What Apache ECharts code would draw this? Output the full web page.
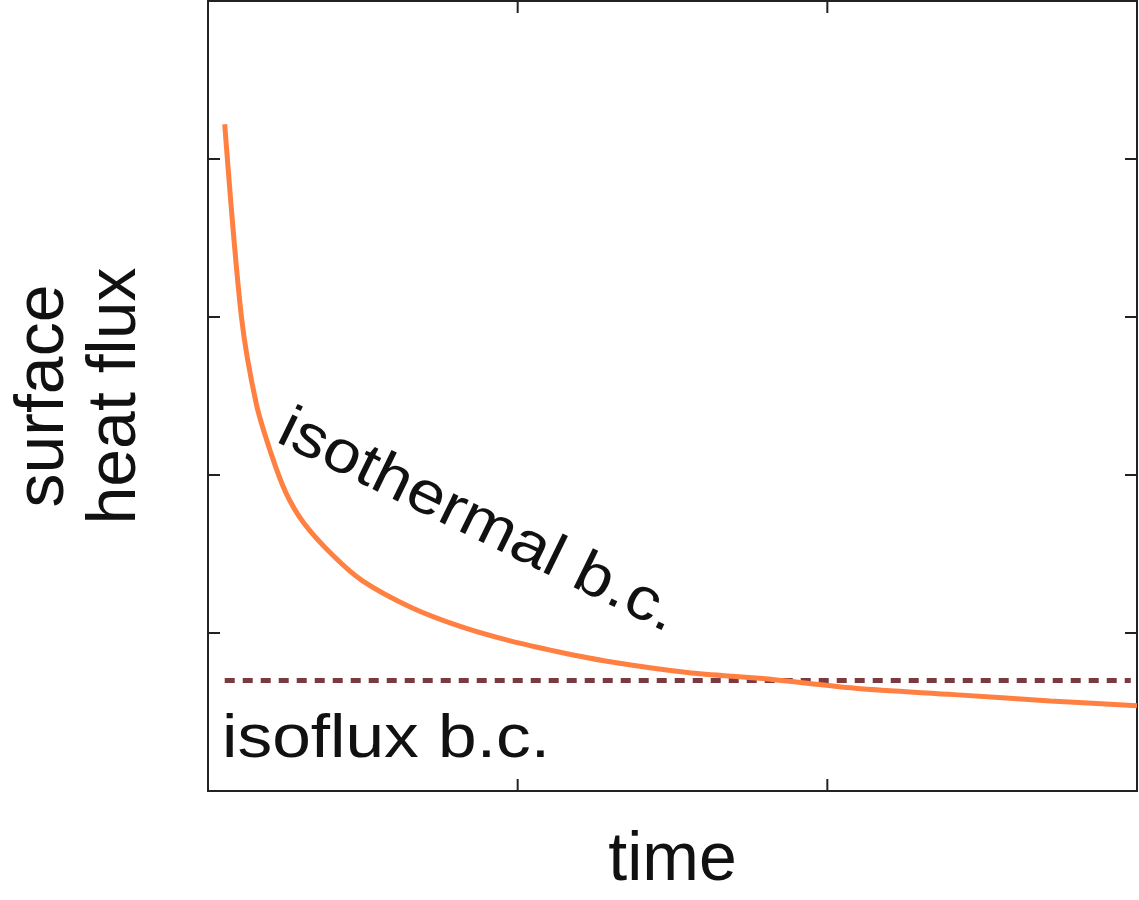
<!DOCTYPE html>
<html><head><meta charset="utf-8">
<script src="https://cdn.jsdelivr.net/npm/echarts@6/dist/echarts.min.js"></script>
<style>html,body{margin:0;background:#fff}#c{width:1139px;height:900px}</style>
</head><body><div id="c"></div>
<script>
const timeX = [0.054,0.108,0.156,0.203,0.251,0.308,0.404,0.499,0.658,0.817,0.976,1.134,1.293,1.548,1.80,2.09,2.41,2.72,3.0];
const isothermal = [4.22,3.0,2.45,2.14,1.89,1.70,1.49,1.33,1.16,1.04,0.95,0.88,0.82,0.75,0.71,0.65,0.61,0.57,0.54];
const isofluxX = [0.054,2.98];
const isoflux = [0.70,0.70];
const xTicks = [1,2];
const yTicks = [1,2,3,4];
const chart = echarts.init(document.getElementById('c'));
const font = 'Liberation Sans, Arial, sans-serif';
const TL = 12, TC = '#222';
function tickItem(params, api){
  const kind = api.value(0), v = api.value(1);
  const cs = params.coordSys;
  const lines = [];
  if (kind === 0){
    const x = api.coord([v,0])[0];
    lines.push([x,cs.y+cs.height,x,cs.y+cs.height-TL],[x,cs.y,x,cs.y+TL]);
  } else {
    const y = api.coord([0,v])[1];
    lines.push([cs.x,y,cs.x+TL,y],[cs.x+cs.width,y,cs.x+cs.width-TL,y]);
  }
  return {type:'group',children:lines.map(l=>({type:'line',shape:{x1:l[0],y1:l[1],x2:l[2],y2:l[3]},style:{stroke:TC,lineWidth:2}}))};
}
const tickData = xTicks.map(v=>[0,v]).concat(yTicks.map(v=>[1,v]));
chart.setOption({
  animation:false,
  grid:{left:193,right:2,top:1,bottom:90,show:true,borderColor:TC,borderWidth:2,backgroundColor:'transparent'},
  xAxis:{type:'value',min:0,max:3,interval:1,axisLine:{show:false},axisTick:{show:false},axisLabel:{show:false},splitLine:{show:false},
     name:'time',nameLocation:'middle',nameGap:36,nameTextStyle:{fontFamily:font,fontSize:68,color:'#111'}},
  yAxis:{type:'value',min:0,max:5,interval:1,axisLine:{show:false},axisTick:{show:false},axisLabel:{show:false},splitLine:{show:false},
     name:'surface\nheat flux',nameLocation:'middle',nameGap:56,nameRotate:90,nameTextStyle:{fontFamily:font,fontSize:68,color:'#111',lineHeight:72}},
  series:[
    {type:'custom',renderItem:tickItem,data:tickData,silent:true,clip:false},
    {type:'line',data:isofluxX.map((x,i)=>[x,isoflux[i]]),showSymbol:false,lineStyle:{color:'#7b3a3f',width:5,type:[10,8]}},
    {type:'line',data:timeX.map((x,i)=>[x,isothermal[i]]),showSymbol:false,smooth:0.3,lineStyle:{color:'#ff8040',width:5}}
  ],
  graphic:[
    {type:'text',x:478,y:522,rotation:-26*Math.PI/180,scaleX:1.12,style:{text:'isothermal b.c.',fontFamily:font,fontSize:60,fill:'#111',align:'center',verticalAlign:'middle'}},
    {type:'text',x:222,y:740,scaleX:1.12,style:{text:'isoflux b.c.',fontFamily:font,fontSize:62,fill:'#111',verticalAlign:'middle'}}
  ]
});
</script></body></html>
